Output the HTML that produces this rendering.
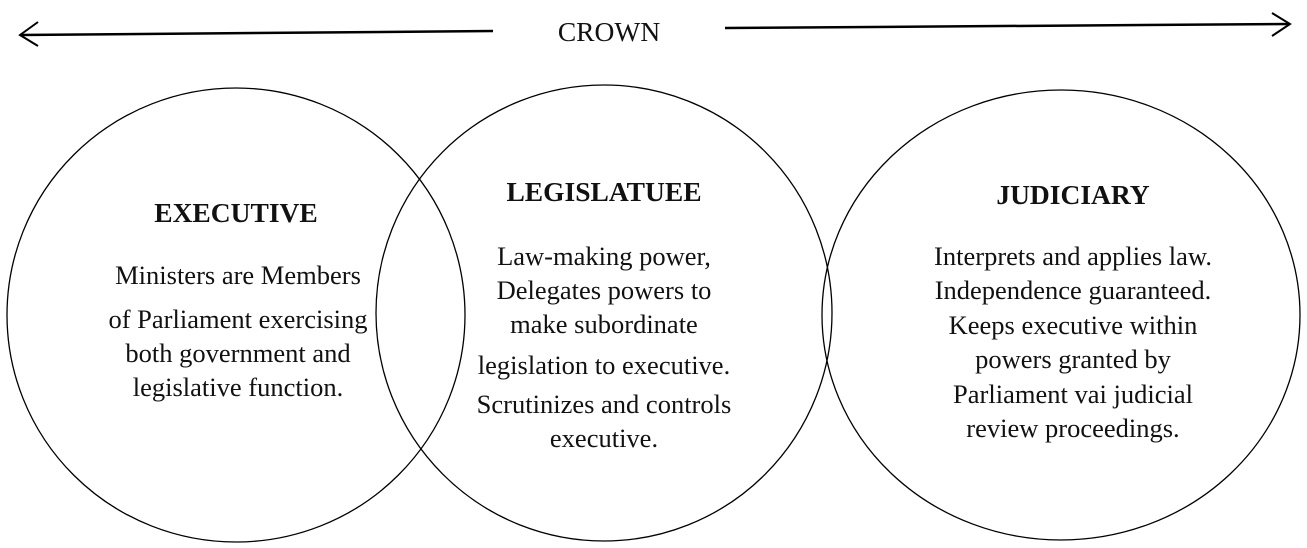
<!DOCTYPE html>
<html><head><meta charset="utf-8"><style>
html,body{margin:0;padding:0;background:#fff;}
svg{display:block;}
text{font-family:"Liberation Serif",serif;font-size:26.5px;fill:#111;}
.b{font-weight:bold;font-size:27.5px;}
</style></head><body>
<svg width="1307" height="548" viewBox="0 0 1307 548" xmlns="http://www.w3.org/2000/svg">
<g stroke="#000" fill="none" stroke-width="2.5">
<line x1="20" y1="35" x2="493" y2="31"/>
<polyline points="38,22 20,35 38,46" stroke-width="2"/>
<line x1="725" y1="28" x2="1290" y2="24"/>
<polyline points="1272,13 1290,24 1272,36" stroke-width="2"/>
</g>
<g stroke="#000" fill="none" stroke-width="1.3">
<ellipse cx="236" cy="315" rx="229" ry="227"/>
<ellipse cx="604" cy="313" rx="228" ry="228"/>
<ellipse cx="1061" cy="315" rx="239" ry="225"/>
</g>
<text x="609" y="41" text-anchor="middle" style="font-size:27.5px">CROWN</text>
<g text-anchor="middle">
<text class="b" x="236" y="222">EXECUTIVE</text>
<text x="238" y="284">Ministers are Members</text>
<text x="238" y="328">of Parliament exercising</text>
<text x="238" y="362">both government and</text>
<text x="238" y="396">legislative function.</text>
<text class="b" x="604" y="201">LEGISLATUEE</text>
<text x="604" y="265">Law-making power,</text>
<text x="604" y="299">Delegates powers to</text>
<text x="604" y="333">make subordinate</text>
<text x="604" y="374">legislation to executive.</text>
<text x="604" y="413">Scrutinizes and controls</text>
<text x="604" y="447">executive.</text>
<text class="b" x="1073" y="204">JUDICIARY</text>
<text x="1073" y="265">Interprets and applies law.</text>
<text x="1073" y="299">Independence guaranteed.</text>
<text x="1073" y="334">Keeps executive within</text>
<text x="1073" y="368">powers granted by</text>
<text x="1073" y="403">Parliament vai judicial</text>
<text x="1073" y="437">review proceedings.</text>
</g>
</svg>
</body></html>
